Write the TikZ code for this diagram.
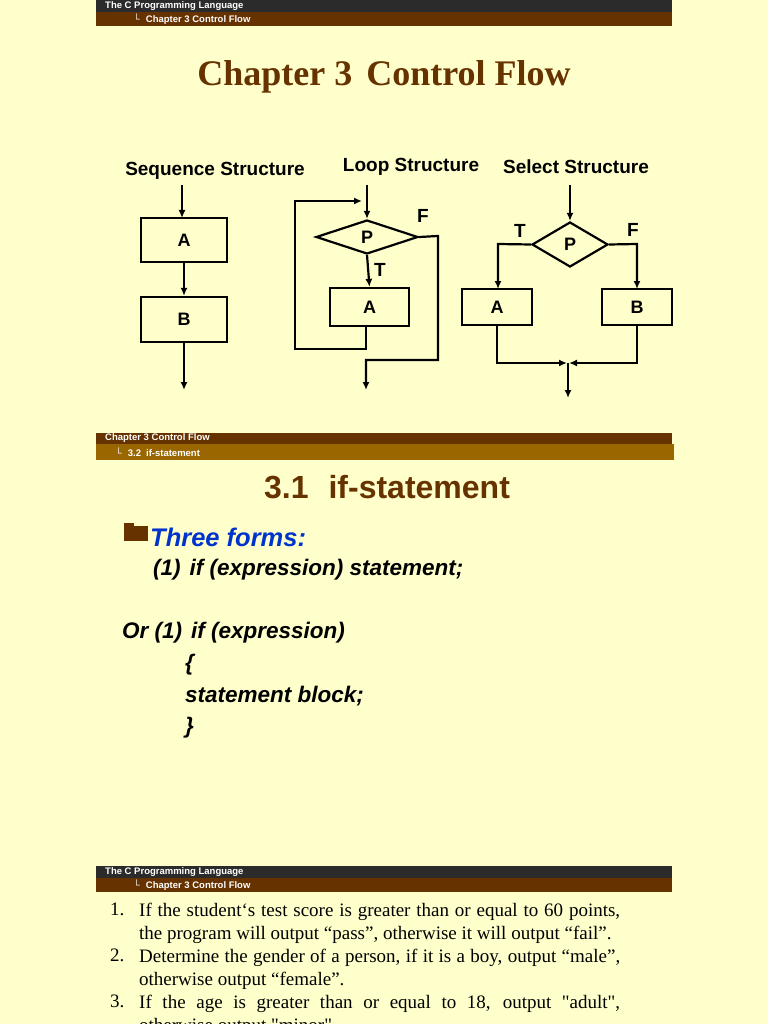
\documentclass[tikz,border=0pt]{standalone}
\usepackage{fontspec}
\setmainfont{Liberation Serif}
\setsansfont{Liberation Sans}
\newfontfamily\nomap{Liberation Serif}
\newcommand{\sq}{{\nomap"}}
\usetikzlibrary{shapes.geometric,arrows.meta}
\definecolor{bg}{HTML}{FFFFCC}
\definecolor{dk}{HTML}{2B2B2B}
\definecolor{br}{HTML}{663300}
\definecolor{tan}{HTML}{996600}
\definecolor{bl}{HTML}{0033CC}
\tikzset{
 hdr/.style={font=\sffamily\bfseries\fontsize{9.5}{11}\selectfont,text=white,anchor=west,inner sep=0},
 lbl/.style={font=\sffamily\bfseries\fontsize{19}{21}\selectfont},
 boxn/.style={draw,line width=2.2pt,font=\sffamily\bfseries\fontsize{18}{20}\selectfont,inner sep=0},
 dia/.style={draw,diamond,aspect=2.2,line width=2.2pt,font=\sffamily\bfseries\fontsize{18}{20}\selectfont,inner sep=0},
 ar/.style={line width=2.2pt,-{Latex[length=8pt,width=7pt]}},
 code/.style={font=\sffamily\bfseries\itshape\fontsize{22.5}{26}\selectfont,anchor=west,inner sep=0},
 listitem/.style={font=\fontsize{19}{23}\selectfont,anchor=north west,inner sep=0,text width=481pt,align=justify},
 num/.style={font=\fontsize{19}{23}\selectfont,anchor=north west,inner sep=0},
}
\begin{document}
\begin{tikzpicture}[x=1pt,y=-1pt]
\useasboundingbox (0,0) rectangle (768,1024);
\clip (0,0) rectangle (768,1024);
\fill[bg] (0,0) rectangle (768,1024);
% header 1
\fill[dk] (96,0) rectangle (672,12);
\fill[br] (96,12) rectangle (672,26);
\node[hdr] (h1a) at (105,6) {The C Programming Language};
\node[hdr] (h1b) at (133,19.5) {└\hspace{6pt}Chapter 3 Control Flow};
\node[font=\bfseries\fontsize{36}{40}\selectfont,text=br] (title) at (384,77) {Chapter 3\hspace{14pt}Control Flow};
\node[lbl] (l1) at (215,171) {Sequence Structure};
\node[lbl] (l2) at (411,167) {Loop Structure};
\node[lbl] (l3) at (576,167) {Select Structure};
% sequence
\coordinate (s0) at (182,185);
\node[boxn,minimum width=86pt,minimum height=44pt] (sa) at (184,240) {A};
\node[boxn,minimum width=86pt,minimum height=45pt] (sb) at (184,319.5) {B};
\coordinate (s1) at (184,390);
\draw[ar] (s0) -- (182,218);
\draw[ar] (sa.south) -- (sb.north);
\draw[ar] (sb.south) -- (s1);
% loop
\coordinate (p0) at (367,185);
\node[dia,minimum width=102pt,minimum height=34pt] (lp) at (367,237) {P};
\node[boxn,minimum width=79pt,minimum height=38pt] (la) at (369.5,307) {A};
\draw[ar] (p0) -- (lp.north);
\draw[ar] (lp.south) -- (la.north);
\node[lbl] (lt) at (380,270) {T};
\node[lbl] (lf) at (423,216) {F};
\coordinate (lc) at (362,201);
\draw[ar] (366,326) -- (366,349) -- (295,349) -- (295,201) -- (lc);
\coordinate (lo) at (366,390);
\draw[ar] (lp.east) -- (438,236) -- (438,360) -- (366,360) -- (lo);
% select
\coordinate (q0) at (570,185);
\node[dia,minimum width=76pt,minimum height=45pt,aspect=1.7] (sp) at (570,244.5) {P};
\node[boxn,minimum width=70pt,minimum height=36pt] (qa) at (497,307) {A};
\node[boxn,minimum width=70pt,minimum height=36pt] (qb) at (637,307) {B};
\draw[ar] (q0) -- (sp.north);
\node[lbl] (qt) at (520,231) {T};
\node[lbl] (qf) at (633,230) {F};
\draw[ar] (sp.west) -- (498,244) -- (498,289);
\draw[ar] (sp.east) -- (637,244) -- (637,289);
\coordinate (qm) at (568,363);
\draw[ar] (qa.south) -- (497,363) -- (567,363);
\draw[ar] (qb.south) -- (637,363) -- (569,363);
\coordinate (qo) at (568,398);
\draw[ar] (qm) -- (qo);
% header 2
\fill[br] (96,433) rectangle (672,444);
\fill[tan] (96,444) rectangle (674,460);
\node[hdr] (h2a) at (105,438.5) {Chapter 3 Control Flow};
\node[hdr] (h2b) at (115,452) {└\hspace{6pt}3.2\hspace{5pt}if-statement};
\node[font=\sffamily\bfseries\fontsize{32}{36}\selectfont,text=br] (t2) at (387,487) {3.1\hspace{20pt}if-statement};
\fill[br] (124,526) rectangle (148,541);
\fill[br] (124,523) rectangle (134,527);
\node[font=\sffamily\bfseries\itshape\fontsize{25.5}{29}\selectfont,text=bl,anchor=west,inner sep=0] (tf) at (150,537) {Three forms:};
\node[code] (c1) at (153,570) {(1)\hspace{9pt}if (expression) statement;};
\node[code] (c2) at (122,633) {Or (1)\hspace{9pt}if (expression)};
\node[code] (c3) at (185,665) {\{};
\node[code] (c4) at (185,696) {statement block;};
\node[code] (c5) at (185,728) {\}};
% header 3
\fill[dk] (96,866) rectangle (672,878);
\fill[br] (96,878) rectangle (672,892);
\node[hdr] (h3a) at (105,872) {The C Programming Language};
\node[hdr] (h3b) at (133,885.5) {└\hspace{6pt}Chapter 3 Control Flow};
% list
\node[num] (n1) at (110,903) {1.};
\node[listitem] (i1) at (139,903) {If the student‘s test score is greater than or equal to 60 points,\linebreak the program will output “pass”, otherwise it will output “fail”.};
\node[num] (n2) at (110,949) {2.};
\node[listitem] (i2) at (139,949) {Determine the gender of a person, if it is a boy, output “male”,\linebreak otherwise output “female”.};
\node[num] (n3) at (110,995) {3.};
\node[listitem] (i3) at (139,995) {If the age is greater than or equal to 18, output \sq adult\sq,\linebreak otherwise output \sq minor\sq.};
\end{tikzpicture}
\end{document}
